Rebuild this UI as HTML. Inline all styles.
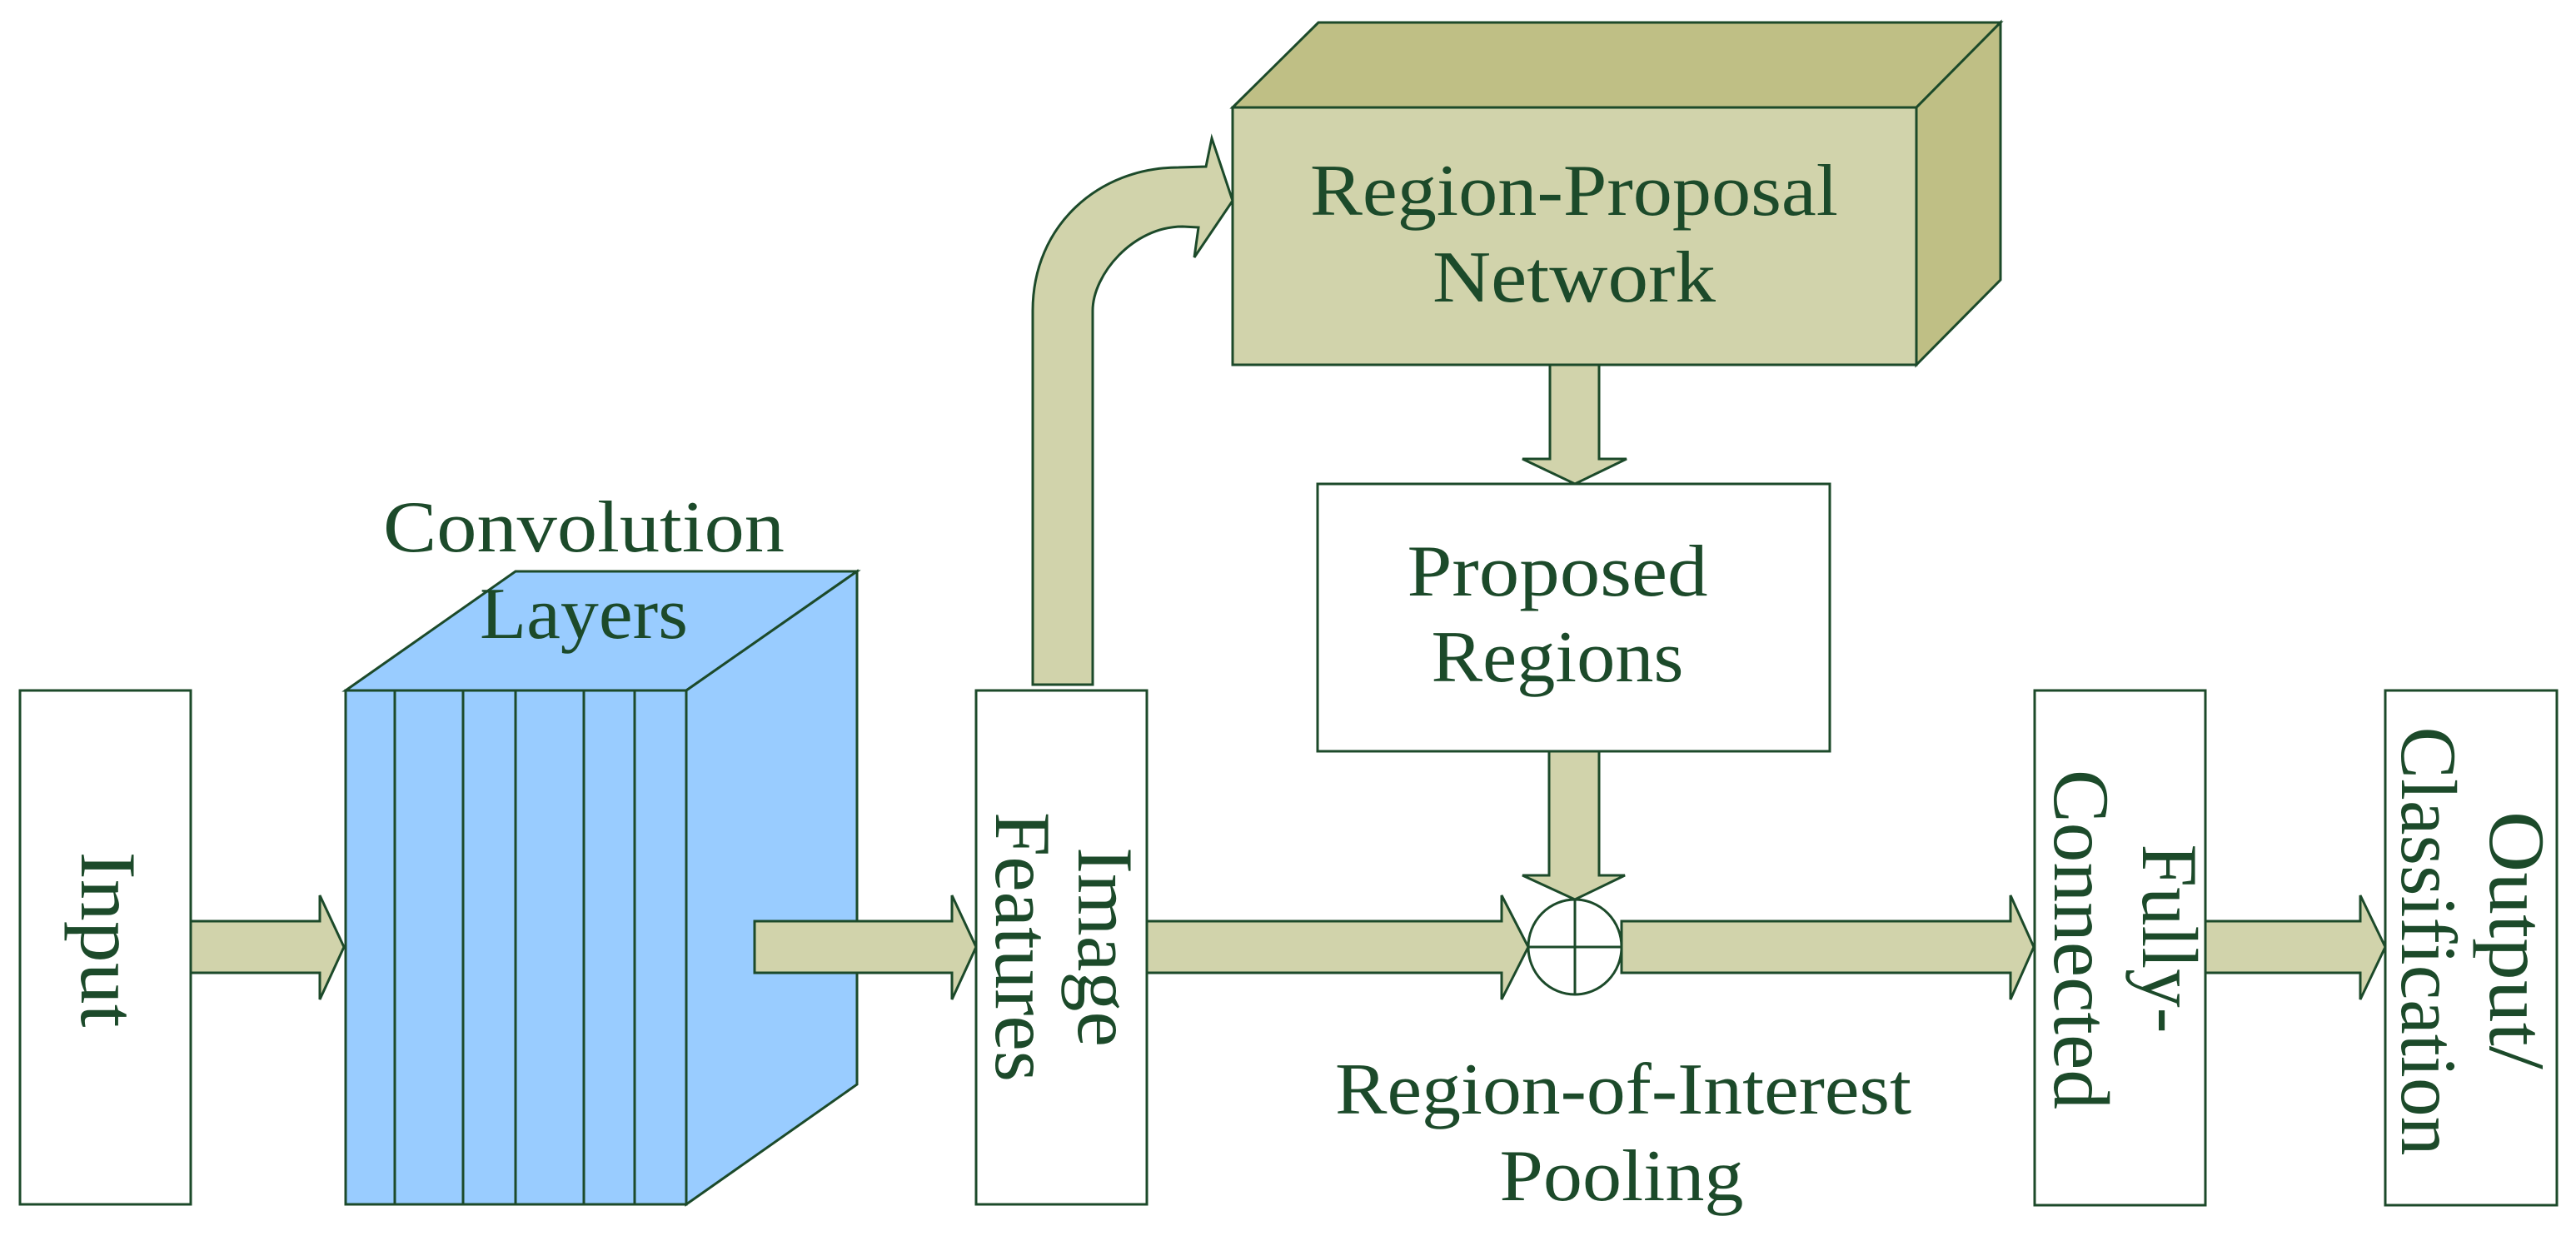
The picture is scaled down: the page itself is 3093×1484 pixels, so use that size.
<!DOCTYPE html>
<html><head><meta charset="utf-8"><style>
html,body{margin:0;padding:0;background:#fff;}
svg{display:block;}
text{font-family:"Liberation Serif",serif;fill:#1c4a2a;}
</style></head><body>
<svg width="3093" height="1484" viewBox="0 0 3093 1484" xmlns="http://www.w3.org/2000/svg">
<g stroke="#1c4a2a" stroke-width="3" stroke-linejoin="miter">
<!-- Input box -->
<rect x="24" y="829" width="205" height="617" fill="#fff"/>
<!-- Input arrow -->
<path d="M229,1106 L384,1106 L384,1075 L413,1137 L384,1200 L384,1168 L229,1168 Z" fill="#d1d3ab"/>
<!-- Conv block -->
<path d="M415,829 L619,686 L1029,686 L824,829 Z" fill="#99ccff"/>
<path d="M824,829 L1029,686 L1029,1302 L824,1446 Z" fill="#99ccff"/>
<rect x="415" y="829" width="409" height="617" fill="#99ccff"/>
<line x1="474" y1="829" x2="474" y2="1446"/>
<line x1="556" y1="829" x2="556" y2="1446"/>
<line x1="619" y1="829" x2="619" y2="1446"/>
<line x1="701" y1="829" x2="701" y2="1446"/>
<line x1="762" y1="829" x2="762" y2="1446"/>
<!-- Conv arrow -->
<path d="M906,1106 L1143,1106 L1143,1075 L1172,1137 L1143,1200 L1143,1168 L906,1168 Z" fill="#d1d3ab"/>
<!-- Image features box -->
<rect x="1172" y="829" width="205" height="617" fill="#fff"/>
<!-- curved arrow -->
<path d="M1240,822 L1240,373 C1240,270 1320,201 1415,201 L1448,200 L1455,166 L1480,241 L1434,309 L1439,273 L1420,272 C1360,272 1312,330 1312,373 L1312,822 Z" fill="#d1d3ab"/>
<!-- RPN -->
<path d="M1480,129 L1583,27 L2402,27 L2301,129 Z" fill="#bfbf85"/>
<path d="M2301,129 L2402,27 L2402,336 L2301,438 Z" fill="#bfbf85"/>
<rect x="1480" y="129" width="821" height="309" fill="#d1d3ab"/>
<!-- RPN down arrow -->
<path d="M1861,438 L1920,438 L1920,551 L1953,551 L1891,581 L1828,551 L1861,551 Z" fill="#d1d3ab"/>
<!-- Proposed box -->
<rect x="1582" y="581" width="615" height="321" fill="#fff"/>
<!-- down arrow to circle -->
<path d="M1860,902 L1920,902 L1920,1051 L1951,1051 L1891,1080 L1828,1051 L1860,1051 Z" fill="#d1d3ab"/>
<!-- image -> circle arrow -->
<path d="M1377,1106 L1803,1106 L1803,1075 L1835,1137 L1803,1200 L1803,1168 L1377,1168 Z" fill="#d1d3ab"/>
<!-- circle -->
<ellipse cx="1891" cy="1137" rx="56" ry="57" fill="#fff"/>
<line x1="1835" y1="1137" x2="1947" y2="1137"/>
<line x1="1891" y1="1080" x2="1891" y2="1194"/>
<!-- circle -> FC -->
<path d="M1947,1106 L2414,1106 L2414,1075 L2442,1137 L2414,1200 L2414,1168 L1947,1168 Z" fill="#d1d3ab"/>
<!-- FC box -->
<rect x="2443" y="829" width="205" height="618" fill="#fff"/>
<!-- FC -> output -->
<path d="M2648,1106 L2834,1106 L2834,1075 L2864,1137 L2834,1200 L2834,1168 L2648,1168 Z" fill="#d1d3ab"/>
<!-- Output box -->
<rect x="2864" y="829" width="206" height="618" fill="#fff"/>
</g>
<!-- horizontal texts -->
<g font-size="88" text-anchor="middle">
<text x="701" y="662" textLength="482" lengthAdjust="spacingAndGlyphs">Convolution</text>
<text x="701" y="766" textLength="250" lengthAdjust="spacingAndGlyphs">Layers</text>
<text x="1890" y="258" textLength="634" lengthAdjust="spacingAndGlyphs">Region-Proposal</text>
<text x="1890" y="362" textLength="340" lengthAdjust="spacingAndGlyphs">Network</text>
<text x="1870" y="715" textLength="361" lengthAdjust="spacingAndGlyphs">Proposed</text>
<text x="1870" y="818" textLength="303" lengthAdjust="spacingAndGlyphs">Regions</text>
<text x="1949" y="1337" textLength="692" lengthAdjust="spacingAndGlyphs">Region-of-Interest</text>
<text x="1947" y="1441" textLength="293" lengthAdjust="spacingAndGlyphs">Pooling</text>
</g>
<!-- rotated texts -->
<g font-size="95" text-anchor="middle">
<text transform="translate(98,1128) rotate(90)" textLength="211" lengthAdjust="spacingAndGlyphs">Input</text>
<text transform="translate(1295,1137) rotate(90)" textLength="240" lengthAdjust="spacingAndGlyphs">Image</text>
<text transform="translate(1196,1137) rotate(90)" textLength="324" lengthAdjust="spacingAndGlyphs">Features</text>
<text transform="translate(2573,1127) rotate(90)" textLength="227" lengthAdjust="spacingAndGlyphs">Fully-</text>
<text transform="translate(2467,1128) rotate(90)" textLength="408" lengthAdjust="spacingAndGlyphs">Connected</text>
<text transform="translate(2990,1129) rotate(90)" textLength="310" lengthAdjust="spacingAndGlyphs">Output/</text>
<text transform="translate(2884,1130) rotate(90)" textLength="515" lengthAdjust="spacingAndGlyphs">Classification</text>
</g>
</svg>
</body></html>
